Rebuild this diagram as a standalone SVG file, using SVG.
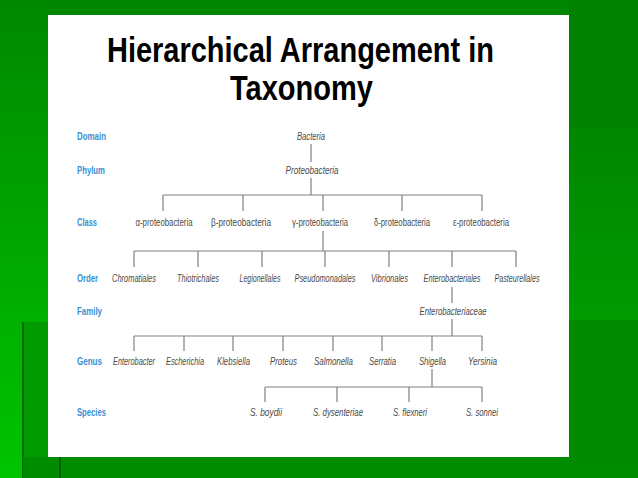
<svg xmlns="http://www.w3.org/2000/svg" width="638" height="478" viewBox="0 0 638 478">
<defs>
<linearGradient id="lg" x1="0" y1="0" x2="0" y2="1">
<stop offset="0" stop-color="#008800"/>
<stop offset="1" stop-color="#00c400"/>
</linearGradient>
<linearGradient id="rg" x1="0" y1="0" x2="0" y2="1">
<stop offset="0" stop-color="#008700"/>
<stop offset="1" stop-color="#009a00"/>
</linearGradient>
<style>
.title{font-family:"Liberation Sans",Arial,sans-serif;font-weight:bold;font-size:35px;fill:#000}
.rank{font-family:"Liberation Sans",Arial,sans-serif;font-weight:bold;font-size:10px;fill:#3b8fd4}
.tx{font-family:"Liberation Sans",Arial,sans-serif;font-size:10px;fill:#4a4a4a;text-anchor:middle}
.it{font-style:italic}
.ln{stroke:#808080;stroke-width:1.2;fill:none}
</style>
</defs>
<!-- background -->
<rect x="0" y="0" width="638" height="478" fill="#008600"/>
<rect x="0" y="0" width="48" height="478" fill="url(#lg)"/>
<rect x="23" y="322" width="40" height="156" fill="#009a00"/>
<rect x="22" y="322" width="2" height="156" fill="#006a00"/>
<rect x="23" y="457" width="615" height="21" fill="#008c00"/>
<rect x="59" y="457" width="2" height="21" fill="#005a00"/>
<rect x="569" y="0" width="69" height="127" fill="#008200"/>
<rect x="569" y="127" width="69" height="193" fill="url(#rg)"/>
<rect x="569" y="320" width="69" height="137" fill="#008a00"/>
<!-- panel -->
<rect x="48" y="15" width="521" height="442" fill="#ffffff"/>
<!-- title -->
<text class="title" x="107" y="62" textLength="387" lengthAdjust="spacingAndGlyphs">Hierarchical Arrangement in</text>
<text class="title" x="230" y="100" textLength="143" lengthAdjust="spacingAndGlyphs">Taxonomy</text>
<!-- rank labels -->
<g id="ranks">
<text class="rank" x="77" y="140" textLength="29" lengthAdjust="spacingAndGlyphs">Domain</text>
<text class="rank" x="77" y="174" textLength="28" lengthAdjust="spacingAndGlyphs">Phylum</text>
<text class="rank" x="77" y="226" textLength="20" lengthAdjust="spacingAndGlyphs">Class</text>
<text class="rank" x="77" y="282" textLength="21" lengthAdjust="spacingAndGlyphs">Order</text>
<text class="rank" x="77" y="315" textLength="25" lengthAdjust="spacingAndGlyphs">Family</text>
<text class="rank" x="77" y="365" textLength="25" lengthAdjust="spacingAndGlyphs">Genus</text>
<text class="rank" x="77" y="416" textLength="29" lengthAdjust="spacingAndGlyphs">Species</text>
</g>
<!-- connectors -->
<g id="connectors" class="ln">
<path d="M311 144V162M311 178V195M163 195H482M163 195V211M243 195V211M323 195V211M402 195V211M482 195V211"/>
<path d="M323 231V251M134 251H516M134 251V267M198 251V267M262 251V267M325 251V267M389 251V267M452 251V267M516 251V267"/>
<path d="M452 287V303M452 319V336M134 336H482M134 336V351M184 336V351M233 336V351M283 336V351M333 336V351M382 336V351M432 336V351M482 336V351"/>
<path d="M432 369V387M265 387H482M265 387V402M337 387V402M409 387V402M482 387V402"/>
</g>
<!-- nodes -->
<g id="n-bacteria"><text class="tx it" x="311" y="140" textLength="28" lengthAdjust="spacingAndGlyphs">Bacteria</text></g>
<g id="n-proteobacteria"><text class="tx it" x="312" y="174" textLength="53" lengthAdjust="spacingAndGlyphs">Proteobacteria</text></g>
<g id="n-alpha"><text class="tx" x="164" y="226" textLength="57" lengthAdjust="spacingAndGlyphs">α-proteobacteria</text></g>
<g id="n-beta"><text class="tx" x="241" y="226" textLength="60" lengthAdjust="spacingAndGlyphs">β-proteobacteria</text></g>
<g id="n-gamma"><text class="tx" x="320" y="226" textLength="56" lengthAdjust="spacingAndGlyphs">γ-proteobacteria</text></g>
<g id="n-delta"><text class="tx" x="402" y="226" textLength="56" lengthAdjust="spacingAndGlyphs">δ-proteobacteria</text></g>
<g id="n-epsilon"><text class="tx" x="481" y="226" textLength="56" lengthAdjust="spacingAndGlyphs">ε-proteobacteria</text></g>
<g id="n-chromatiales" transform="translate(134 282) scale(0.73 1)"><text class="tx it" x="0" y="0" textLength="60.3" lengthAdjust="spacingAndGlyphs">Chromatiales</text></g>
<g id="n-thiotrichales" transform="translate(198 282) scale(0.73 1)"><text class="tx it" x="0" y="0" textLength="57.5" lengthAdjust="spacingAndGlyphs">Thiotrichales</text></g>
<g id="n-legionellales" transform="translate(260 282) scale(0.73 1)"><text class="tx it" x="0" y="0" textLength="56.2" lengthAdjust="spacingAndGlyphs">Legionellales</text></g>
<g id="n-pseudomonadales" transform="translate(325 282) scale(0.73 1)"><text class="tx it" x="0" y="0" textLength="83.6" lengthAdjust="spacingAndGlyphs">Pseudomonadales</text></g>
<g id="n-vibrionales" transform="translate(389.5 282) scale(0.73 1)"><text class="tx it" x="0" y="0" textLength="50.7" lengthAdjust="spacingAndGlyphs">Vibrionales</text></g>
<g id="n-enterobacteriales" transform="translate(452 282) scale(0.73 1)"><text class="tx it" x="0" y="0" textLength="78.1" lengthAdjust="spacingAndGlyphs">Enterobacteriales</text></g>
<g id="n-pasteurellales" transform="translate(517 282) scale(0.73 1)"><text class="tx it" x="0" y="0" textLength="61.6" lengthAdjust="spacingAndGlyphs">Pasteurellales</text></g>
<g id="n-enterobacteriaceae"><text class="tx it" x="453" y="315" textLength="67" lengthAdjust="spacingAndGlyphs">Enterobacteriaceae</text></g>
<g id="n-enterobacter"><text class="tx it" x="134" y="365" textLength="42" lengthAdjust="spacingAndGlyphs">Enterobacter</text></g>
<g id="n-escherichia"><text class="tx it" x="185" y="365" textLength="38" lengthAdjust="spacingAndGlyphs">Escherichia</text></g>
<g id="n-klebsiella"><text class="tx it" x="233.5" y="365" textLength="33" lengthAdjust="spacingAndGlyphs">Klebsiella</text></g>
<g id="n-proteus"><text class="tx it" x="283.5" y="365" textLength="27" lengthAdjust="spacingAndGlyphs">Proteus</text></g>
<g id="n-salmonella"><text class="tx it" x="333.5" y="365" textLength="39" lengthAdjust="spacingAndGlyphs">Salmonella</text></g>
<g id="n-serratia"><text class="tx it" x="382.5" y="365" textLength="27" lengthAdjust="spacingAndGlyphs">Serratia</text></g>
<g id="n-shigella"><text class="tx it" x="432.5" y="365" textLength="27" lengthAdjust="spacingAndGlyphs">Shigella</text></g>
<g id="n-yersinia"><text class="tx it" x="482.5" y="365" textLength="29" lengthAdjust="spacingAndGlyphs">Yersinia</text></g>
<g id="n-sboydii"><text class="tx it" x="266" y="416" textLength="32" lengthAdjust="spacingAndGlyphs">S. boydii</text></g>
<g id="n-sdysenteriae"><text class="tx it" x="338" y="416" textLength="50" lengthAdjust="spacingAndGlyphs">S. dysenteriae</text></g>
<g id="n-sflexneri"><text class="tx it" x="410" y="416" textLength="34" lengthAdjust="spacingAndGlyphs">S. flexneri</text></g>
<g id="n-ssonnei"><text class="tx it" x="482" y="416" textLength="32" lengthAdjust="spacingAndGlyphs">S. sonnei</text></g>
</svg>
